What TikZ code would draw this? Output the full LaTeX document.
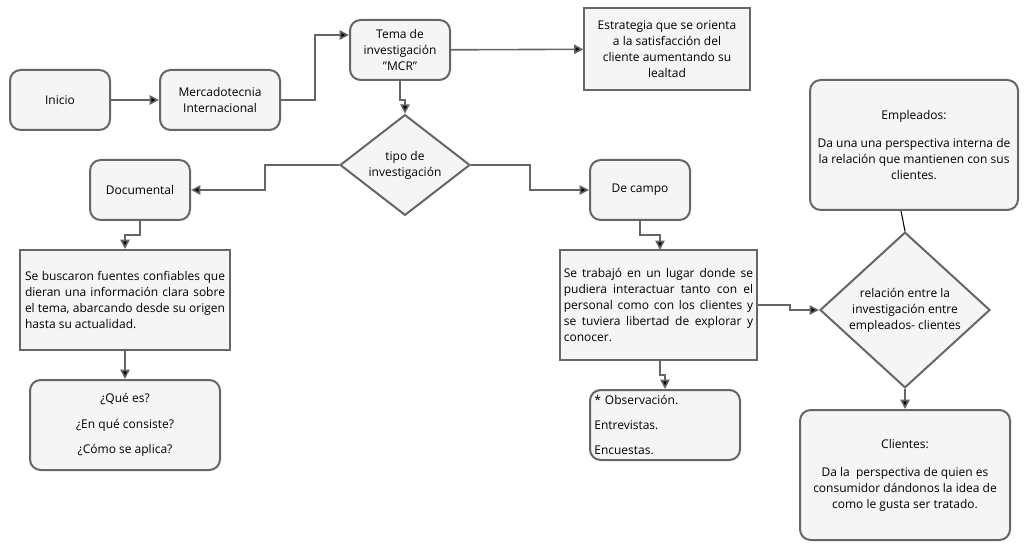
\documentclass[tikz,border=0pt]{standalone}
\usepackage{fontspec}
\setmainfont{Open Sans}
\usetikzlibrary{shapes.geometric,arrows.meta}
\definecolor{fillc}{HTML}{F5F5F5}
\definecolor{linec}{HTML}{666666}
\tikzset{
 box/.style={draw=linec,line width=1.5pt,fill=fillc,font=\fontsize{9}{12}\selectfont,align=center,inner sep=2pt},
 rbox/.style={box,rounded corners=8pt},
 dia/.style={box,diamond,aspect=1.45,inner sep=0pt},
 conn/.style={draw=linec,line width=1.2pt,-{Triangle[length=7pt,width=7pt,fill=black]}},
}
\begin{document}
\begin{tikzpicture}[x=0.75pt,y=-0.75pt]
\useasboundingbox (0,0) rectangle (1030,555);
\node[rbox,minimum width=75pt,minimum height=45pt] (ini) at (60,100) {Inicio};
\node[rbox,minimum width=90pt,minimum height=45pt] (mer) at (220,100) {Mercadotecnia\\Internacional};
\node[rbox,minimum width=75pt,minimum height=45pt] (tem) at (400,50) {Tema de\\investigación\\"MCR"};
\node[box,minimum width=124pt,minimum height=61pt] (est) at (667,49) {Estrategia que se orienta\\a la satisfacción del\\cliente aumentando su\\lealtad};
\node[box,diamond,minimum width=97.5pt,minimum height=67.5pt,inner sep=0pt] (tip) at (405,165) {tipo de\\investigación};
\node[rbox,minimum width=75pt,minimum height=45pt] (doc) at (140,190) {Documental};
\node[rbox,minimum width=75pt,minimum height=45pt] (cam) at (640,190) {De campo};
\node[box,minimum width=157.5pt,minimum height=75pt,align=justify,text width=150pt] (dtx) at (125,300) {Se buscaron fuentes confiables que dieran una información clara sobre el tema, abarcando desde su origen hasta su actualidad.\par};
\node[rbox,minimum width=142.5pt,minimum height=67.5pt,font=\fontsize{9}{19}\selectfont] (que) at (125,425) {¿Qué es?\\¿En qué consiste?\\¿Cómo se aplica?};
\node[box,minimum width=147.5pt,minimum height=82.5pt,align=justify,text width=142pt] (ctx) at (658.5,305) {Se trabajó en un lugar donde se pudiera interactuar tanto con el personal como con los clientes y se tuviera libertad de explorar y conocer.\par};
\node[rbox,minimum width=112.5pt,minimum height=52.5pt,align=left,text width=106pt,font=\fontsize{9}{19}\selectfont] (obs) at (665,425) {* Observación.\\*Entrevistas.\\*Encuestas.};
\node[box,diamond,minimum width=127.5pt,minimum height=105pt,inner sep=0pt] (rel) at (905,310) {relación entre la\\investigación entre\\empleados- clientes};
\node[rbox,minimum width=156pt,minimum height=97.5pt,text width=148pt,align=justify] (emp) at (914,145) {\centering Empleados:\par\vspace{9pt}Da una una perspectiva interna de la relación que mantienen con sus clientes.\par\vspace{14pt}};
\node[rbox,minimum width=157.5pt,minimum height=97.5pt,text width=148pt,align=justify] (cli) at (905,475) {\centering Clientes:\par\vspace{9pt}Da la \ perspectiva de quien es consumidor dándonos la idea de como le gusta ser tratado.\par};
\draw[conn] (ini) -- (mer);
\draw[conn] (mer.east) -- (315,100) -- (315,35) -- (tem.west |- 0,35);
\draw[conn] (tem) -- (est);
\draw[conn] (tem.south) -- (400,100) -- (405,100) -- (tip.north);
\draw[conn] (tip.west) -- (265,165) -- (265,190) -- (doc.east);
\draw[conn] (tip.east) -- (530,165) -- (530,190) -- (cam.west);
\draw[conn] (doc.south) -- (140,235) -- (125,235) -- (dtx.north);
\draw[conn] (dtx) -- (que);
\draw[conn] (cam.south) -- (640,235) -- (660,235) -- (660,250);
\draw[conn] (660,360) -- (660,375) -- (665,375) -- (obs.north);
\draw[conn] (ctx.east |- 0,305) -- (790,305) -- (790,310) -- (rel.west);
\coordinate (ea) at (901,211);
\draw[draw=black,line width=0.8pt] (rel.north) -- (ea);
\draw[conn,draw=none] (ea) -- (917,211);
\draw[conn] (rel.south) -- (cli.north);
\end{tikzpicture}
\end{document}
